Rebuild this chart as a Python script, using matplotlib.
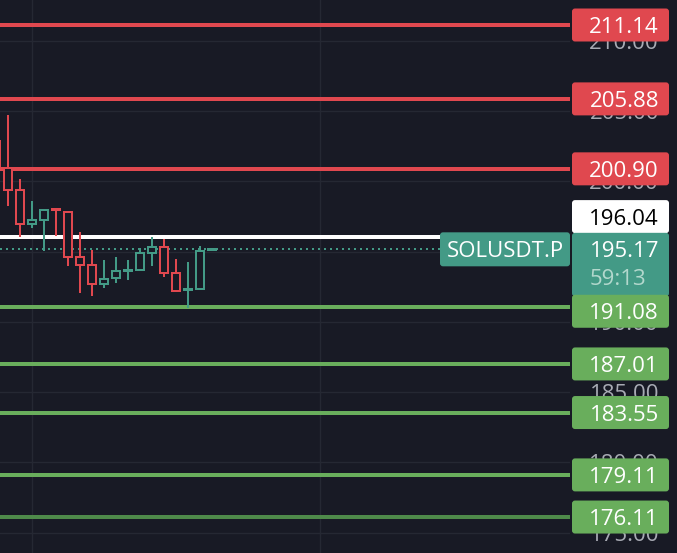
import matplotlib
matplotlib.use("Agg")
import matplotlib.pyplot as plt
from matplotlib.patches import Rectangle, FancyBboxPatch
from matplotlib.transforms import IdentityTransform

# ---------------- data ----------------
opens  = [202.88, 200.98, 199.37, 196.97, 197.23, 198.01, 197.81, 194.60, 194.03, 192.68,
          193.10, 193.66, 193.70, 194.89, 195.31, 193.46, 192.30, 192.32, 195.12]
highs  = [203.40, 204.73, 200.18, 198.61, 198.04, 198.09, 197.90, 196.40, 195.12, 194.41,
          194.62, 194.41, 195.26, 196.05, 195.90, 194.48, 194.27, 195.41, 195.28]
lows   = [200.60, 198.27, 196.07, 196.71, 195.07, 196.12, 194.00, 192.08, 191.87, 192.44,
          192.79, 192.98, 193.68, 194.00, 193.22, 192.15, 191.01, 192.32, 195.08]
closes = [200.98, 199.39, 196.97, 197.23, 197.95, 197.94, 194.60, 194.03, 192.68, 193.08,
          193.60, 193.72, 194.89, 195.31, 193.46, 192.22, 192.38, 195.03, 195.17]

resistance_levels = [211.14, 205.88, 200.90]
support_levels = [191.08, 187.01, 183.55, 179.11, 176.11]
white_level = 196.04
last_price = 195.17
symbol = "SOLUSDT.P"
countdown = "59:13"
price_ticks = [175, 180, 185, 190, 195, 200, 205, 210]
vgrid_idx = [3, 27]

# ---------------- style ----------------
BG = "#181a25"
GRID = "#252833"
RED = "#e0484f"
CGREEN = "#439a86"
LGREEN = "#69ae5c"
LGREEN_DARK = "#4e8a4a"
TICK = "#a8abb4"
FONT = ["Open Sans", "DejaVu Sans"]
W, H = 677, 553
PX = 72 / 100.0  # points per pixel

fig = plt.figure(figsize=(W / 100, H / 100), dpi=100, facecolor=BG)
ax = fig.add_axes([0, 0, 570 / W, 1])
ax.set_facecolor(BG)
ax.set_xlim(0.333, 47.83)
ax.set_ylim(173.55, 212.92)
ax.axis("off")

# grid
for p in price_ticks:
    ax.axhline(p, color=GRID, lw=1.4 * PX, zorder=0)
for xi in vgrid_idx:
    ax.axvline(xi, color=GRID, lw=1.4 * PX, zorder=0)

# candles (hollow)
bw = 8 / 12
for i, (o, h, l, c) in enumerate(zip(opens, highs, lows, closes)):
    col = CGREEN if c >= o else RED
    top, bot = max(o, c), min(o, c)
    ax.plot([i, i], [top, h], color=col, lw=2 * PX, solid_capstyle="butt", zorder=3)
    ax.plot([i, i], [l, bot], color=col, lw=2 * PX, solid_capstyle="butt", zorder=3)
    ax.add_patch(Rectangle((i - bw / 2, bot), bw, top - bot, facecolor=BG,
                           edgecolor=col, lw=2 * PX, zorder=4))

# level lines
for p in resistance_levels:
    ax.axhline(p, color=RED, lw=4 * PX, zorder=2)
for k, p in enumerate(support_levels):
    ax.axhline(p, color=LGREEN_DARK if k == len(support_levels) - 1 else LGREEN,
               lw=4 * PX, zorder=2)
ax.axhline(white_level, color="white", lw=4 * PX, zorder=2)
ax.axhline(last_price, color=CGREEN, lw=2 * PX, ls=(0, (1, 2)), zorder=2)

ID = IdentityTransform()


def ypx(p):
    return ax.transData.transform((0, p))[1]


def box(x, y, w, h, fc, z=5):
    fig.add_artist(FancyBboxPatch((x, y), w, h, boxstyle="round,pad=0,rounding_size=3",
                                  transform=ID, fc=fc, ec="none", zorder=z))


def txt(x, yc, s, color, ha="right", size=16, z=6):
    fig.text(x, yc - 8, s, transform=ID, ha=ha, va="baseline", color=color,
             fontsize=size, family=FONT, zorder=z)


# price scale tick labels
for p in price_ticks:
    txt(659, ypx(p), f"{p:.2f}", TICK, z=4)

# tags
for p in resistance_levels:
    yc = ypx(p)
    box(572, yc - 16.5, 97, 33, RED)
    txt(659, yc, f"{p:.2f}", "white")

# white tag (shifted up)
yc = ypx(white_level) + 20.5
box(572, yc - 16.5, 97, 33, "white")
txt(659, yc, f"{white_level:.2f}", "black")

# last price tag
yl = ypx(last_price)
box(572, yl - 47, 97, 63.5, CGREEN)
txt(659, yl, f"{last_price:.2f}", "white")
txt(646, yl - 28, countdown, "#b3d8cd")
box(440, yl - 17, 130, 34, CGREEN)
txt(505, yl, symbol, "white", ha="center")

for k, p in enumerate(support_levels):
    yc = ypx(p) - (4.5 if k == 0 else 0)
    box(572, yc - 16.5, 97, 33, LGREEN, z=7)
    txt(659, yc, f"{p:.2f}", "white", z=8)

fig.savefig("out.png", dpi=100, facecolor=BG)
